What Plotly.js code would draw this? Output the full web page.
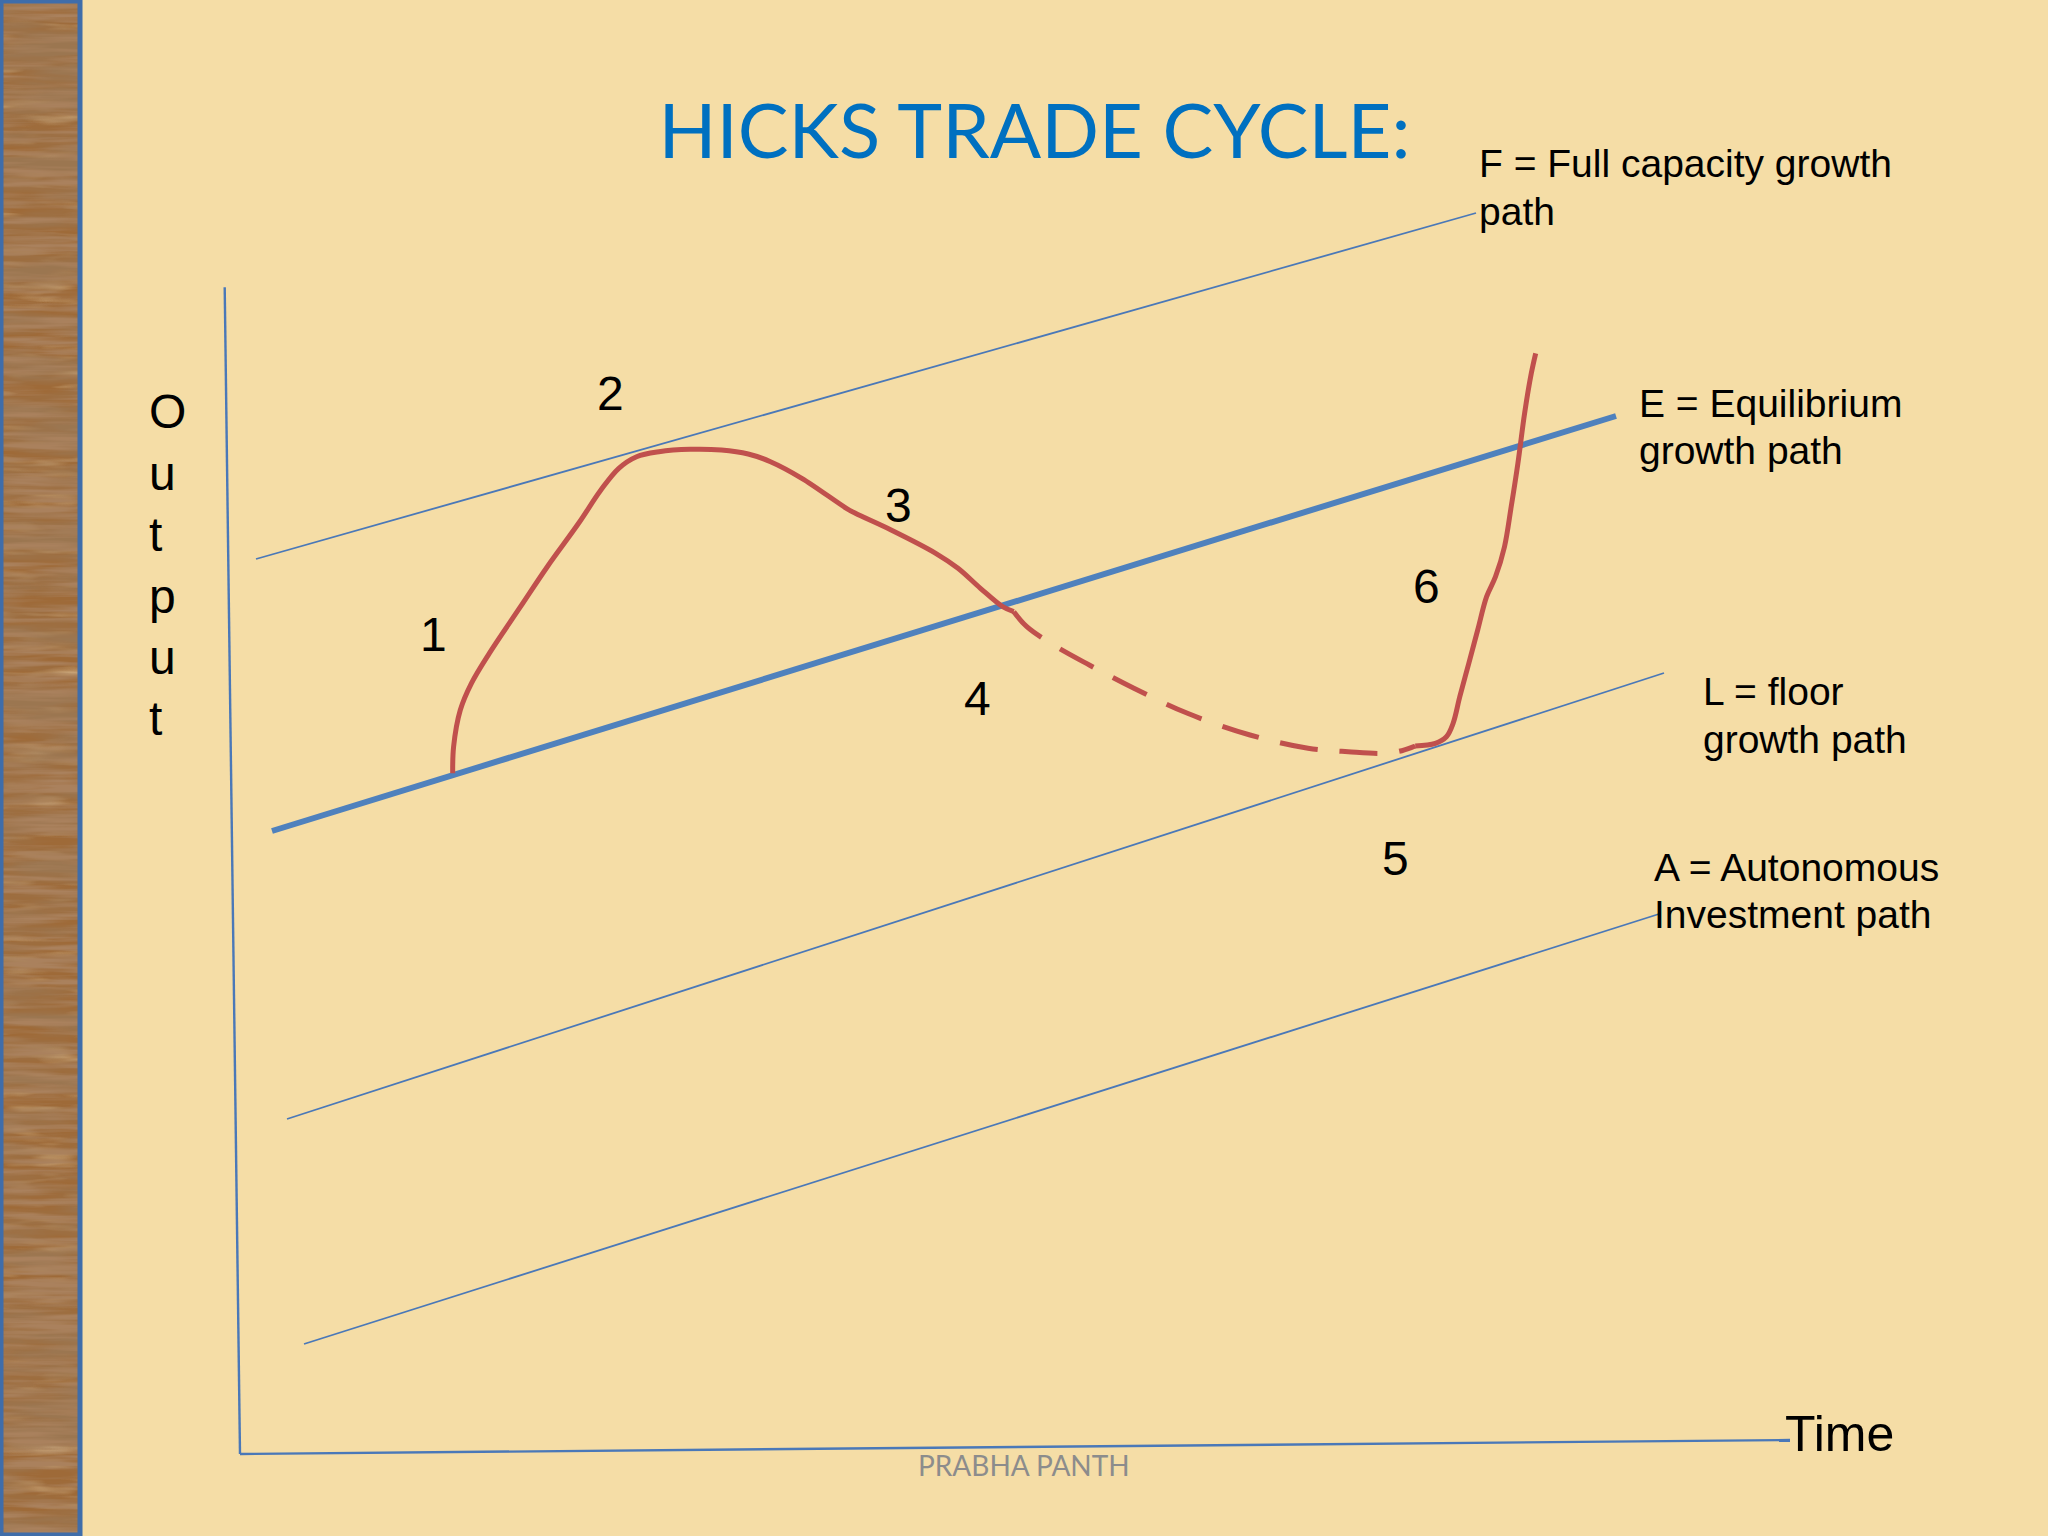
<!DOCTYPE html>
<html>
<head>
<meta charset="utf-8">
<script src="https://cdn.plot.ly/plotly-3.0.1.min.js"></script>
<style>
html,body{margin:0;padding:0;background:#F5DDA6;}
#chart{width:2048px;height:1536px;}
</style>
</head>
<body>
<div id="chart"></div>
<script>
// ---- Diagram data (Time on x, Output on y, arbitrary units) ----
const outputAxisX = [-1.53, 0];
const outputAxisY = [116.67, 0];
const timeAxisX = [0, 155.0];
const timeAxisY = [0, 1.4];

// Growth paths (start, end)
const fullCapacityX = [1.6, 123.6];
const fullCapacityY = [89.5, 124.1];
const equilibriumX = [3.2, 137.6];
const equilibriumY = [62.3, 103.8];
const floorX = [4.7, 142.4];
const floorY = [33.5, 78.1];
const autonomousX = [6.4, 141.9];
const autonomousY = [11.0, 54.0];

// Trade cycle: expansion, boom and downturn (solid)
const cycleUpX = [21.27, 21.36, 22.03, 23.14, 24.93, 28.05, 30.73, 33.86, 36.09, 37.88, 39.66, 41.89, 45.02, 48.14, 50.82, 53.05, 56.18, 60.64, 61.54, 65.11, 69.57, 71.80, 74.04, 76.27, 77.38];
const cycleUpY = [68.07, 70.73, 74.40, 77.07, 80.07, 84.73, 88.73, 93.07, 96.40, 98.57, 99.73, 100.23, 100.47, 100.40, 100.00, 99.23, 97.57, 94.57, 94.07, 92.40, 90.07, 88.57, 86.57, 84.73, 84.23];
// Depression (dashed)
const cycleDownX = [77.38, 78.68, 81.36, 84.93, 89.39, 94.75, 101.0, 106.8, 110.82, 114.39, 116.18, 117.52];
const cycleDownY = [84.23, 82.73, 80.90, 78.90, 76.57, 74.07, 71.90, 70.57, 70.23, 70.07, 70.33, 70.80];
// Recovery (solid)
const cycleRecoveryX = [117.52, 119.53, 120.64, 121.31, 121.98, 122.88, 123.77, 124.66, 125.55, 126.45, 127.12, 127.79, 128.46, 129.13, 129.57];
const cycleRecoveryY = [70.80, 71.07, 71.73, 73.07, 75.73, 79.07, 82.40, 85.73, 87.73, 90.73, 94.73, 99.07, 104.07, 108.07, 110.07];

const phaseLabels = ['1', '2', '3', '4', '5', '6'];
const outputLetters = ['O', 'u', 't', 'p', 'u', 't'];

// ---- Styles ----
const thinBlue = '#4A78B8';
const mainBlue = '#4F81BD';
const red = '#C0504D';
const labelFont = {family: 'Liberation Sans, Arial, sans-serif', size: 39, color: '#000000'};
const numFont = {family: 'Liberation Sans, Arial, sans-serif', size: 48, color: '#000000'};

function seg(x, y, color, width, dash) {
  return {x: x, y: y, type: 'scatter', mode: 'lines', hoverinfo: 'skip',
    line: {color: color, width: width, dash: dash || 'solid', shape: 'linear'}};
}
function curve(x, y, dash) {
  return {x: x, y: y, type: 'scatter', mode: 'lines', hoverinfo: 'skip',
    line: {color: red, width: 5, dash: dash || 'solid', shape: 'spline', smoothing: 1.0}};
}

const traces = [
  seg(outputAxisX, outputAxisY, thinBlue, 2.4),
  seg(timeAxisX, timeAxisY, thinBlue, 2.4),
  seg(fullCapacityX, fullCapacityY, thinBlue, 1.8),
  seg(floorX, floorY, thinBlue, 1.8),
  seg(autonomousX, autonomousY, thinBlue, 1.8),
  seg(equilibriumX, equilibriumY, mainBlue, 6),
  curve(cycleUpX, cycleUpY),
  curve(cycleDownX, cycleDownY, '38px,22px'),
  curve(cycleRecoveryX, cycleRecoveryY)
];

// ---- Annotations ----
const ann = [];
function txt(text, x, y, font, xanchor) {
  ann.push({text: text, x: x, y: y, xref: 'x', yref: 'y', showarrow: false,
    xanchor: xanchor || 'left', yanchor: 'middle', align: 'left', font: font});
}
txt('F = Full capacity growth', 123.7, 129.1, labelFont);
txt('path', 123.7, 124.24, labelFont);
txt('E = Equilibrium', 139.66, 105.04, labelFont);
txt('growth path', 139.66, 100.34, labelFont);
txt('L = floor', 146.05, 76.3, labelFont);
txt('growth path', 146.05, 71.5, labelFont);
txt('A = Autonomous', 141.2, 58.7, labelFont);
txt('Investment path', 141.2, 54.0, labelFont);

const phasePos = [[19.36, 81.92], [37.0, 106.1], [65.86, 94.86], [73.7, 75.52], [115.5, 59.6], [118.62, 86.76]];
phaseLabels.forEach(function (p, i) { txt(p, phasePos[i][0], phasePos[i][1], numFont, 'center'); });

const letterY = [104.3, 98.1, 92.0, 85.8, 79.7, 73.6];
outputLetters.forEach(function (l, i) { txt(l, -9.3, letterY[i], numFont, 'left'); });

txt('Time', 154.3, 1.96, {family: 'Liberation Sans, Arial, sans-serif', size: 50, color: '#000000'});
txt('PRABHA PANTH', 78.4, -1.1, {family: 'Lato, sans-serif', size: 28, color: '#8C8C8C'}, 'center');

// ---- Wood strip decoration ----
const woodSvg = "<svg xmlns='http://www.w3.org/2000/svg' width='80' height='1536' viewBox='0 0 80 1536' preserveAspectRatio='none'>" +
  "<filter id='d' x='0' y='0' width='100%' height='100%'><feTurbulence type='fractalNoise' baseFrequency='0.006 0.045' numOctaves='4' seed='7'/>" +
  "<feColorMatrix type='matrix' values='0 0 0 0 0.33  0 0 0 0 0.18  0 0 0 0 0.08  3.0 0 0 0 -1.05'/></filter>" +
  "<filter id='m' x='0' y='0' width='100%' height='100%'><feTurbulence type='fractalNoise' baseFrequency='0.01 0.16' numOctaves='3' seed='23'/>" +
  "<feColorMatrix type='matrix' values='0 0 0 0 0.40  0 0 0 0 0.22  0 0 0 0 0.11  2.6 0 0 0 -1.0'/></filter>" +
  "<filter id='l' x='0' y='0' width='100%' height='100%'><feTurbulence type='fractalNoise' baseFrequency='0.012 0.09' numOctaves='3' seed='19'/>" +
  "<feColorMatrix type='matrix' values='0 0 0 0 0.80  0 0 0 0 0.62  0 0 0 0 0.38  1.8 0 0 0 -0.95'/></filter>" +
  "<rect width='80' height='1536' fill='#9E6A38'/>" +
  "<rect width='80' height='1536' filter='url(#l)'/>" +
  "<rect width='80' height='1536' filter='url(#d)'/>" +
  "<rect width='80' height='1536' filter='url(#m)'/></svg>";

const layout = {
  width: 2048, height: 1536,
  margin: {l: 0, r: 0, t: 0, b: 0, pad: 0},
  paper_bgcolor: '#F5DDA6', plot_bgcolor: '#F5DDA6',
  showlegend: false,
  title: {text: 'HICKS TRADE CYCLE:', x: 0.5051, xanchor: 'center', y: 0.9145, yanchor: 'middle',
    font: {family: 'Lato, sans-serif', size: 76, color: '#0070C0'}},
  xaxis: {range: [-24.0, 180.8], visible: false, fixedrange: true},
  yaxis: {range: [-8.2, 145.4], visible: false, fixedrange: true},
  annotations: ann,
  images: [{source: 'data:image/svg+xml;charset=utf-8,' + encodeURIComponent(woodSvg),
    xref: 'paper', yref: 'paper', x: 0, y: 1, sizex: 80 / 2048, sizey: 1,
    xanchor: 'left', yanchor: 'top', sizing: 'stretch', layer: 'above'}],
  shapes: [{type: 'rect', xref: 'paper', yref: 'paper', x0: 1 / 2048, x1: 80 / 2048, y0: 1 / 1536, y1: 1535 / 1536,
    line: {color: '#3F6DAA', width: 5}, fillcolor: 'rgba(0,0,0,0)', layer: 'above'}]
};

Plotly.newPlot('chart', traces, layout, {displayModeBar: false, staticPlot: true});
</script>
</body>
</html>
